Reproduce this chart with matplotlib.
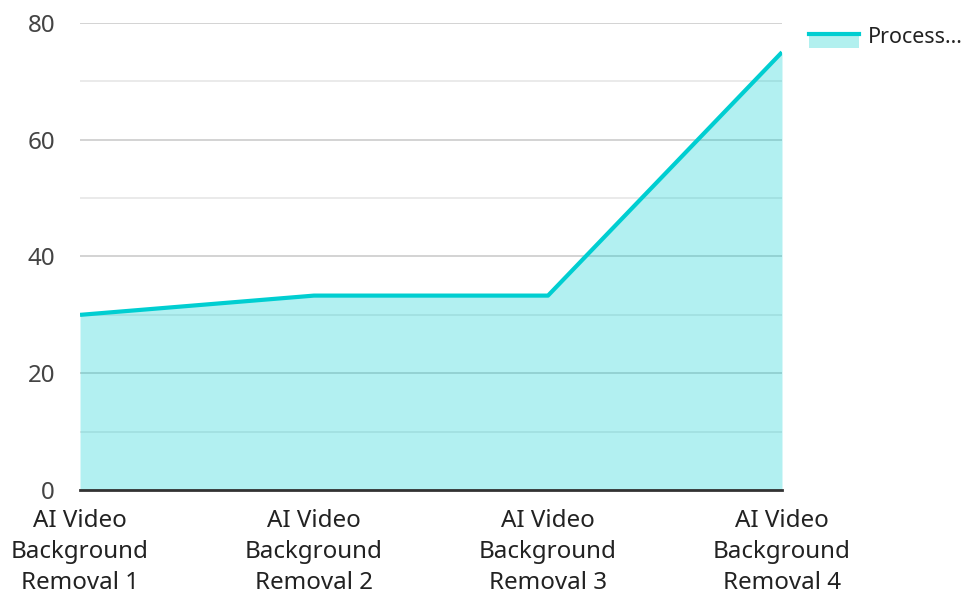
import matplotlib.pyplot as plt
from matplotlib.patches import Rectangle
from matplotlib.lines import Line2D
from matplotlib.legend_handler import HandlerBase

plt.rcParams['font.family'] = ['Noto Sans', 'DejaVu Sans']

categories = ["AI Video\nBackground\nRemoval 1", "AI Video\nBackground\nRemoval 2",
              "AI Video\nBackground\nRemoval 3", "AI Video\nBackground\nRemoval 4"]
values = [30, 33.3, 33.3, 75]
series_name = "Process..."

line_color = "#00CED1"
fill_color = "#B2F0EF"


class AreaHandler(HandlerBase):
    # legend swatch: filled box with the line along its top
    def create_artists(self, legend, orig_handle, xdescent, ydescent,
                       width, height, fontsize, trans):
        rect = Rectangle((-xdescent, -ydescent - 0.3 * height), width, height * 1.0,
                         facecolor=fill_color, edgecolor="none", transform=trans)
        top = -ydescent + 0.62 * height
        ln = Line2D([-xdescent, -xdescent + width], [top, top],
                    color=line_color, linewidth=3, transform=trans)
        return [rect, ln]


fig = plt.figure(figsize=(9.77, 5.94), dpi=100)
ax = fig.add_axes([0.0819, 0.1751, 0.7185, 0.7862])

x = list(range(len(categories)))
ax.fill_between(x, values, 0, color=line_color, alpha=0.3, linewidth=0, zorder=3)
ax.plot(x, values, color=line_color, linewidth=3, zorder=4, solid_capstyle="butt")

ax.set_xlim(0, len(categories) - 1)
ax.set_ylim(0, 80)
ax.set_yticks([0, 20, 40, 60, 80])
ax.set_yticks([10, 30, 50, 70], minor=True)
ax.grid(True, which="major", axis="y", color="#cccccc", linewidth=1.2, zorder=1)
ax.grid(True, which="minor", axis="y", color="#e6e6e6", linewidth=1.2, zorder=1)
ax.set_xticks(x)
ax.set_xticklabels(categories, fontsize=17.4, color="#222222", linespacing=1.38)

for s in ["top", "right", "left"]:
    ax.spines[s].set_visible(False)
ax.spines["bottom"].set_color("#333333")
ax.spines["bottom"].set_linewidth(2)
ax.spines["bottom"].set_zorder(5)

ax.tick_params(axis="y", which="both", length=0, labelsize=17.4, labelcolor="#444444", pad=18)
ax.tick_params(axis="x", length=0, pad=14)

leg = ax.legend([object()], [series_name], handler_map={object: AreaHandler()},
                loc="upper left", bbox_to_anchor=(1.011, 1.032), frameon=False,
                fontsize=15.5, handlelength=2.3, handletextpad=0.45, labelcolor="#222222")

fig.savefig("out.png", dpi=100)
